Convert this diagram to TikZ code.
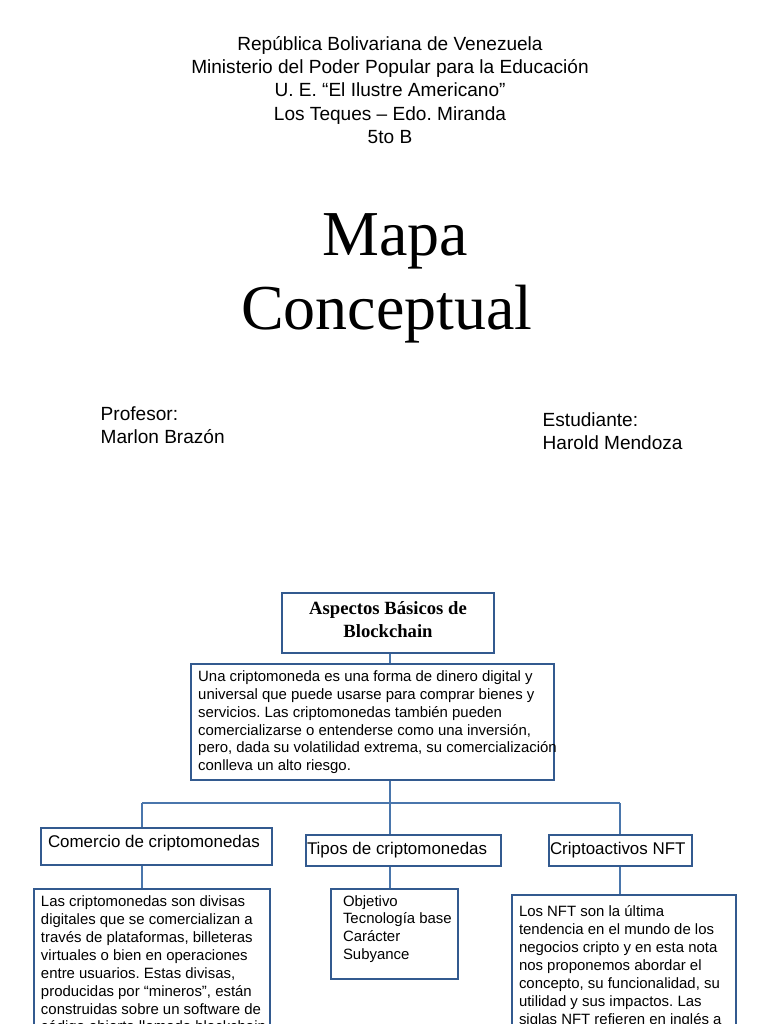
\documentclass[tikz,border=0pt]{standalone}
\usepackage{fontspec}
\setmainfont{Liberation Sans}
\newfontfamily\timesfont{Liberation Serif}
\usetikzlibrary{calc,positioning}
\definecolor{boxblue}{HTML}{335A8F}
\definecolor{linkblue}{HTML}{4A76AC}
% text set from the left edge of its box: width, offset (both in px), lines
\newcommand{\boxlines}[3]{\makebox[\dimexpr0.75pt*#1\relax][l]{\hspace*{\dimexpr0.75pt*#2\relax}\begin{tabular}{@{}l@{}}#3\end{tabular}}}
\tikzset{
    x=0.75pt,y=-0.75pt,
    head/.style = {align=center, font=\fontsize{14.3}{17.4}\selectfont},
    big/.style = {align=center, font=\timesfont\fontsize{48}{56}\selectfont},
    names/.style = {align=left, anchor=west, font=\fontsize{14.3}{17}\selectfont},
    concept/.style = {draw=boxblue, line width=1.5pt, anchor=north west, inner sep=0pt, font=\fontsize{11.2}{13.4}\selectfont},
    small/.style = {font=\fontsize{12.7}{14}\selectfont},
    link/.style = {draw=linkblue, line width=1.9pt}
}
\begin{document}
\frenchspacing
\begin{tikzpicture}
    \path[use as bounding box, clip] (0,0) rectangle (768,1024);
    \fill[white] (0,0) rectangle (768,1024);

    \node[head] (school) at (390,90) {República Bolivariana de Venezuela\\Ministerio del Poder Popular para la Educación\\U. E. “El Ilustre Americano”\\Los Teques – Edo. Miranda\\5to B};
    \node[big] (title) at (387,278.5) {\hspace*{12pt}Mapa\\Conceptual};
    \node[names] (prof) at (96,425) {Profesor:\\Marlon Brazón};
    \node[names] (est) at (538,431) {Estudiante:\\Harold Mendoza};

    \node[concept, minimum width=212*0.75pt, minimum height=60*0.75pt, font=\timesfont\bfseries\fontsize{14}{17.2}\selectfont] (aspectos) at (281,592) {\begin{tabular}{@{}c@{}}Aspectos Básicos de\\Blockchain\\[3pt]\end{tabular}};
    \node[concept, line width=1.8pt, minimum width=363*0.75pt, minimum height=116*0.75pt] (info) at (190,663) {\boxlines{363}{7}{\rule{0pt}{10pt}Una criptomoneda es una forma de dinero digital y\\universal que puede usarse para comprar bienes y\\servicios. Las criptomonedas también pueden\\comercializarse o entenderse como una inversión,\\pero, dada su volatilidad extrema, su comercialización\\conlleva un alto riesgo.}};

    \coordinate (split) at (390,803);
    \coordinate (leftend) at (142,803);
    \coordinate (rightend) at (620,803);

    \node[concept, small, minimum width=231*0.75pt, minimum height=37*0.75pt] (comercio) at (40,827) {\boxlines{231}{7}{Comercio de criptomonedas\\[4pt]}};
    \node[concept, small, minimum width=195*0.75pt, minimum height=31*0.75pt] (tipos) at (305,834) {\boxlines{195}{1}{Tipos de criptomonedas}};
    \node[concept, small, minimum width=143*0.75pt, minimum height=31*0.75pt] (nft) at (548,834) {\boxlines{143}{1}{Criptoactivos NFT}};

    \node[concept, minimum width=236*0.75pt, inner ysep=4pt] (divisas) at (33,888) {\boxlines{236}{7}{Las criptomonedas son divisas\\digitales que se comercializan a\\través de plataformas, billeteras\\virtuales o bien en operaciones\\entre usuarios. Estas divisas,\\producidas por “mineros”, están\\construidas sobre un software de\\código abierto llamado blockchain}};
    \node[concept, minimum width=127*0.75pt, minimum height=90*0.75pt] (lista) at (330,888) {\boxlines{127}{12}{Objetivo\\Tecnología base\\Carácter\\Subyance\\[7pt]}};
    \node[concept, minimum width=224*0.75pt, inner ysep=7pt] (nfttext) at (511,894) {\boxlines{224}{7}{Los NFT son la última\\tendencia en el mundo de los\\negocios cripto y en esta nota\\nos proponemos abordar el\\concepto, su funcionalidad, su\\utilidad y sus impactos. Las\\siglas NFT refieren en inglés a}};

    \path[link] (aspectos.south -| split) edge (info.north -| split);
    \path[link] (info.south -| split) edge (tipos.north -| split);
    \path[link] (leftend) edge (rightend);
    \path[link] (leftend) edge (comercio.north -| leftend);
    \path[link] (rightend) edge (nft.north -| rightend);
    \path[link] (comercio.south -| leftend) edge (divisas.north -| leftend);
    \path[link] (tipos.south -| split) edge (lista.north -| split);
    \path[link] (nft.south -| rightend) edge (nfttext.north -| rightend);
\end{tikzpicture}
\end{document}
